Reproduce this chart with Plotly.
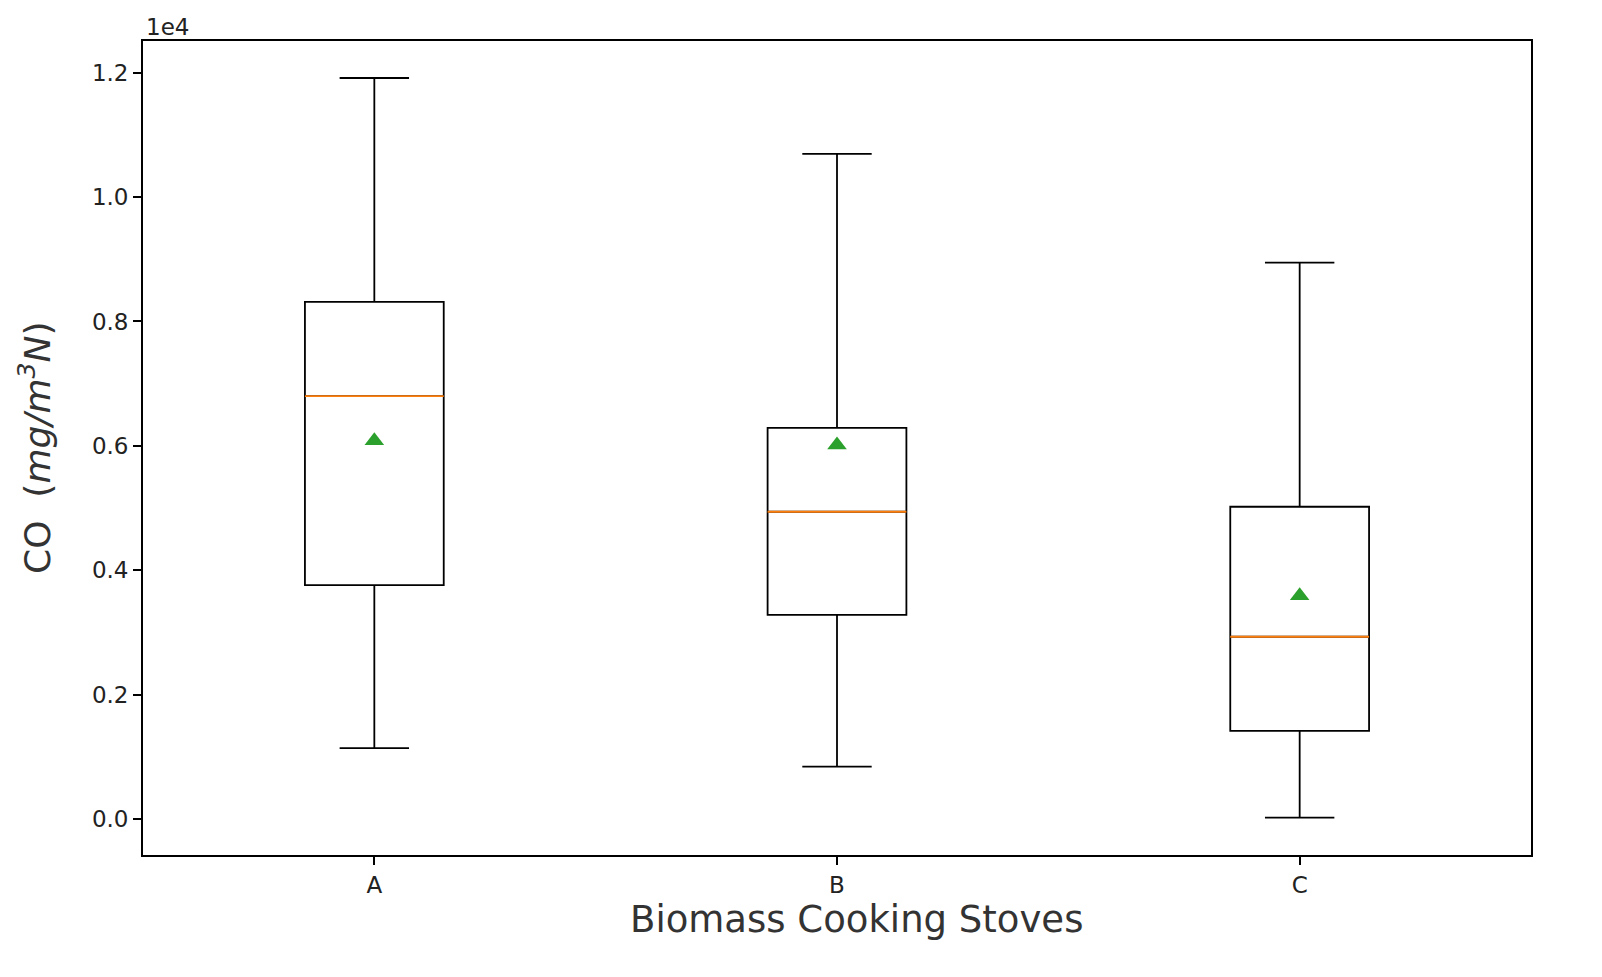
import plotly.graph_objects as go

# box statistics (mg/m3N)
stoves = ["A", "B", "C"]
positions = [1, 2, 3]
whisker_low = [1140, 840, 20]
q1 = [3760, 3280, 1415]
median = [6800, 4940, 2930]
q3 = [8315, 6290, 5020]
whisker_high = [11915, 10695, 8945]
means = [6080, 6015, 3590]

ytick_vals = [0, 2000, 4000, 6000, 8000, 10000, 12000]
ytick_text = ["0.0", "0.2", "0.4", "0.6", "0.8", "1.0", "1.2"]

box_w = 0.3

fig = go.Figure()

for i, s in enumerate(stoves):
    fig.add_trace(go.Box(
        x=[positions[i]],
        q1=[q1[i]], median=[median[i]], q3=[q3[i]],
        lowerfence=[whisker_low[i]], upperfence=[whisker_high[i]],
        name=s,
        width=box_w,
        whiskerwidth=0.5,
        line=dict(color="black", width=1.8),
        fillcolor="rgba(255,255,255,0)",
        boxpoints=False,
        hoverinfo="skip",
        showlegend=False,
    ))

# orange median lines drawn over the boxes
mx, my = [], []
for p, m in zip(positions, median):
    mx += [p - box_w / 2, p + box_w / 2, None]
    my += [m, m, None]
fig.add_trace(go.Scatter(x=mx, y=my, mode="lines",
                         line=dict(color="#ff7f0e", width=1.8),
                         showlegend=False, hoverinfo="skip"))

# mean markers
fig.add_trace(go.Scatter(x=positions, y=means, mode="markers",
                         marker=dict(symbol="triangle-up", color="#2ca02c", size=17),
                         showlegend=False))

# page body keeps an 8px margin, so the figure is sized to fit inside the window
fig.update_layout(
    width=1586, height=961,
    paper_bgcolor="white", plot_bgcolor="white",
    margin=dict(l=135, r=63, t=33, b=114),
    font=dict(family="DejaVu Sans", size=23, color="#222"),
    showlegend=False,
)

fig.update_xaxes(
    range=[0.5, 3.5],
    tickvals=positions, ticktext=stoves,
    showgrid=False, zeroline=False,
    showline=True, linecolor="black", linewidth=1.8, mirror=True,
    ticks="outside", ticklen=8, tickcolor="black", tickwidth=1.5,
)
fig.update_yaxes(
    range=[-580, 12510],
    tickvals=ytick_vals, ticktext=ytick_text,
    showgrid=False, zeroline=False,
    showline=True, linecolor="black", linewidth=1.8, mirror=True,
    ticks="outside", ticklen=8, tickcolor="black", tickwidth=1.5,
)

# offset label of the y axis
fig.add_annotation(text="1e4", xref="paper", yref="paper", x=0, y=1,
                   xanchor="left", yanchor="middle", showarrow=False,
                   font=dict(size=23, color="#222"), xshift=1, yshift=14)

# axis titles
fig.add_annotation(text="Biomass Cooking Stoves", xref="paper", yref="paper",
                   x=0.5137, y=0, xanchor="center", yanchor="middle",
                   showarrow=False, yshift=-64,
                   font=dict(size=37, color="#333"))
fig.add_annotation(text="CO  (<i>mg/m<sup>3</sup>N</i>)", xref="paper", yref="paper",
                   x=0, y=0.5, xanchor="center", yanchor="middle", textangle=-90,
                   showarrow=False, xshift=-108,
                   font=dict(size=36, color="#333"))

fig.write_html("out.html")
